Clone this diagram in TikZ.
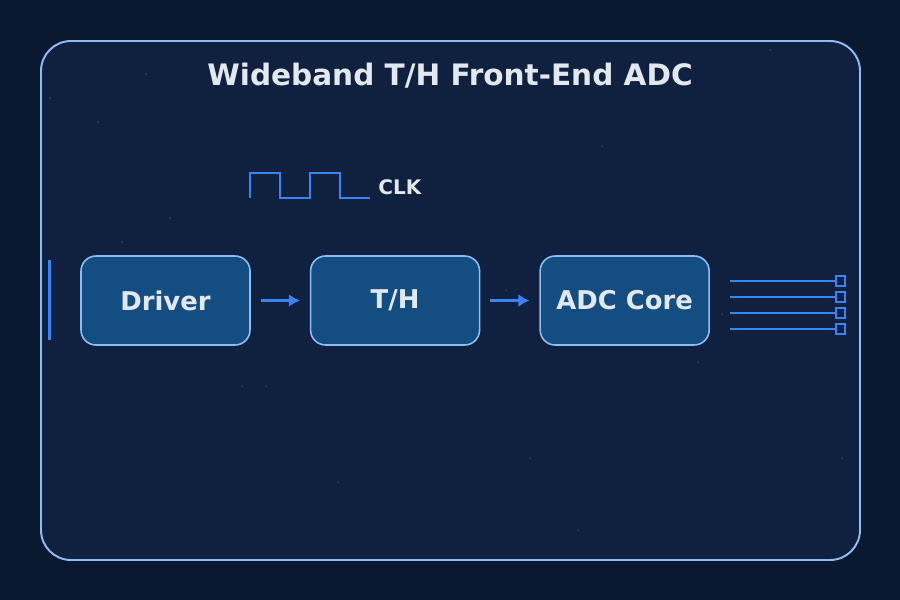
\documentclass[tikz,border=0pt]{standalone}
\usepackage{fontspec}
\setmainfont{DejaVu Sans}
\usepackage{tikz}
\usetikzlibrary{arrows.meta,positioning,calc}
\usepackage{xcolor}

\definecolor{pagebg}{HTML}{0A1830}
\definecolor{panelbg}{HTML}{10213F}
\definecolor{panelline}{HTML}{8DBDF5}
\definecolor{blockfill}{HTML}{144D82}
\definecolor{signal}{HTML}{3B82F6}
\definecolor{labeltext}{HTML}{E2E8F0}
\definecolor{speck}{HTML}{2A4266}

\begin{document}
\begin{tikzpicture}[
    node distance=0.6cm and 1.18cm,
    block/.style={rectangle, draw=panelline, line width=0.9pt, fill=blockfill,
                  rounded corners=0.3cm, align=center, text=labeltext,
                  minimum height=1.78cm, minimum width=3.38cm,
                  font=\fontsize{14.7}{17}\selectfont\bfseries},
    arrow/.style={-{Latex[length=0.22cm,width=0.26cm]}, signal, line width=1.6pt,
                  shorten <=0.2cm, shorten >=0.2cm},
    wire/.style={signal, line width=1.2pt},
    pin/.style={rectangle, draw=signal, line width=1.1pt, inner sep=0pt,
                minimum width=0.18cm, minimum height=0.2cm}
]
% page and panel
\fill[pagebg] (0,0) rectangle (18,-12);
\useasboundingbox (0,0) rectangle (18,-12);
\draw[panelline, fill=panelbg, line width=1.1pt, rounded corners=0.6cm]
    (0.82,-0.82) rectangle (17.2,-11.2);
\foreach \x/\y in {50/98, 98/122, 146/74, 170/218, 122/242, 218/290, 242/386,
                   266/386, 338/482, 338/338, 530/458, 578/530, 602/146,
                   698/362, 722/314, 770/50, 842/458, 506/290}
    \fill[speck] (0.02*\x,-0.02*\y) circle (0.022);

\node[font=\fontsize{16.8}{20}\selectfont\bfseries, text=labeltext] (title)
    at (9,-1.52) {Wideband T/H Front-End ADC};

% signal chain
\node[block] (driver) at (3.31,-6.01) {Driver};
\node[block, right=of driver] (th) {T/H};
\node[block, right=of th] (adccore) {ADC Core};

\draw[arrow] (driver) -- (th);
\draw[arrow] (th) -- (adccore);

% input bar
\draw[wire, line width=1.6pt] ($(driver.west)+(-0.62,0.81)$) -- ++(0,-1.6);

% clock
\coordinate (clk0) at (5.0,-3.96);
\draw[wire, line width=1.4pt] (clk0) -- ++(0,0.5) -- ++(0.6,0) -- ++(0,-0.5)
    -- ++(0.6,0) -- ++(0,0.5) -- ++(0.6,0) -- ++(0,-0.5) -- ++(0.6,0);
\node[anchor=west, inner sep=0pt, text=labeltext,
      font=\fontsize{11.4}{13}\selectfont\bfseries] (clk) at (7.56,-3.74) {CLK};

% output bits
\foreach \i/\dy in {1/0.39, 2/0.07, 3/-0.25, 4/-0.57} {
    \node[pin] (pin\i) at ($(adccore.east)+(2.61,\dy)$) {};
    \draw[wire] ($(adccore.east)+(0.4,\dy)$) -- (pin\i.west);
}
\end{tikzpicture}
\end{document}
